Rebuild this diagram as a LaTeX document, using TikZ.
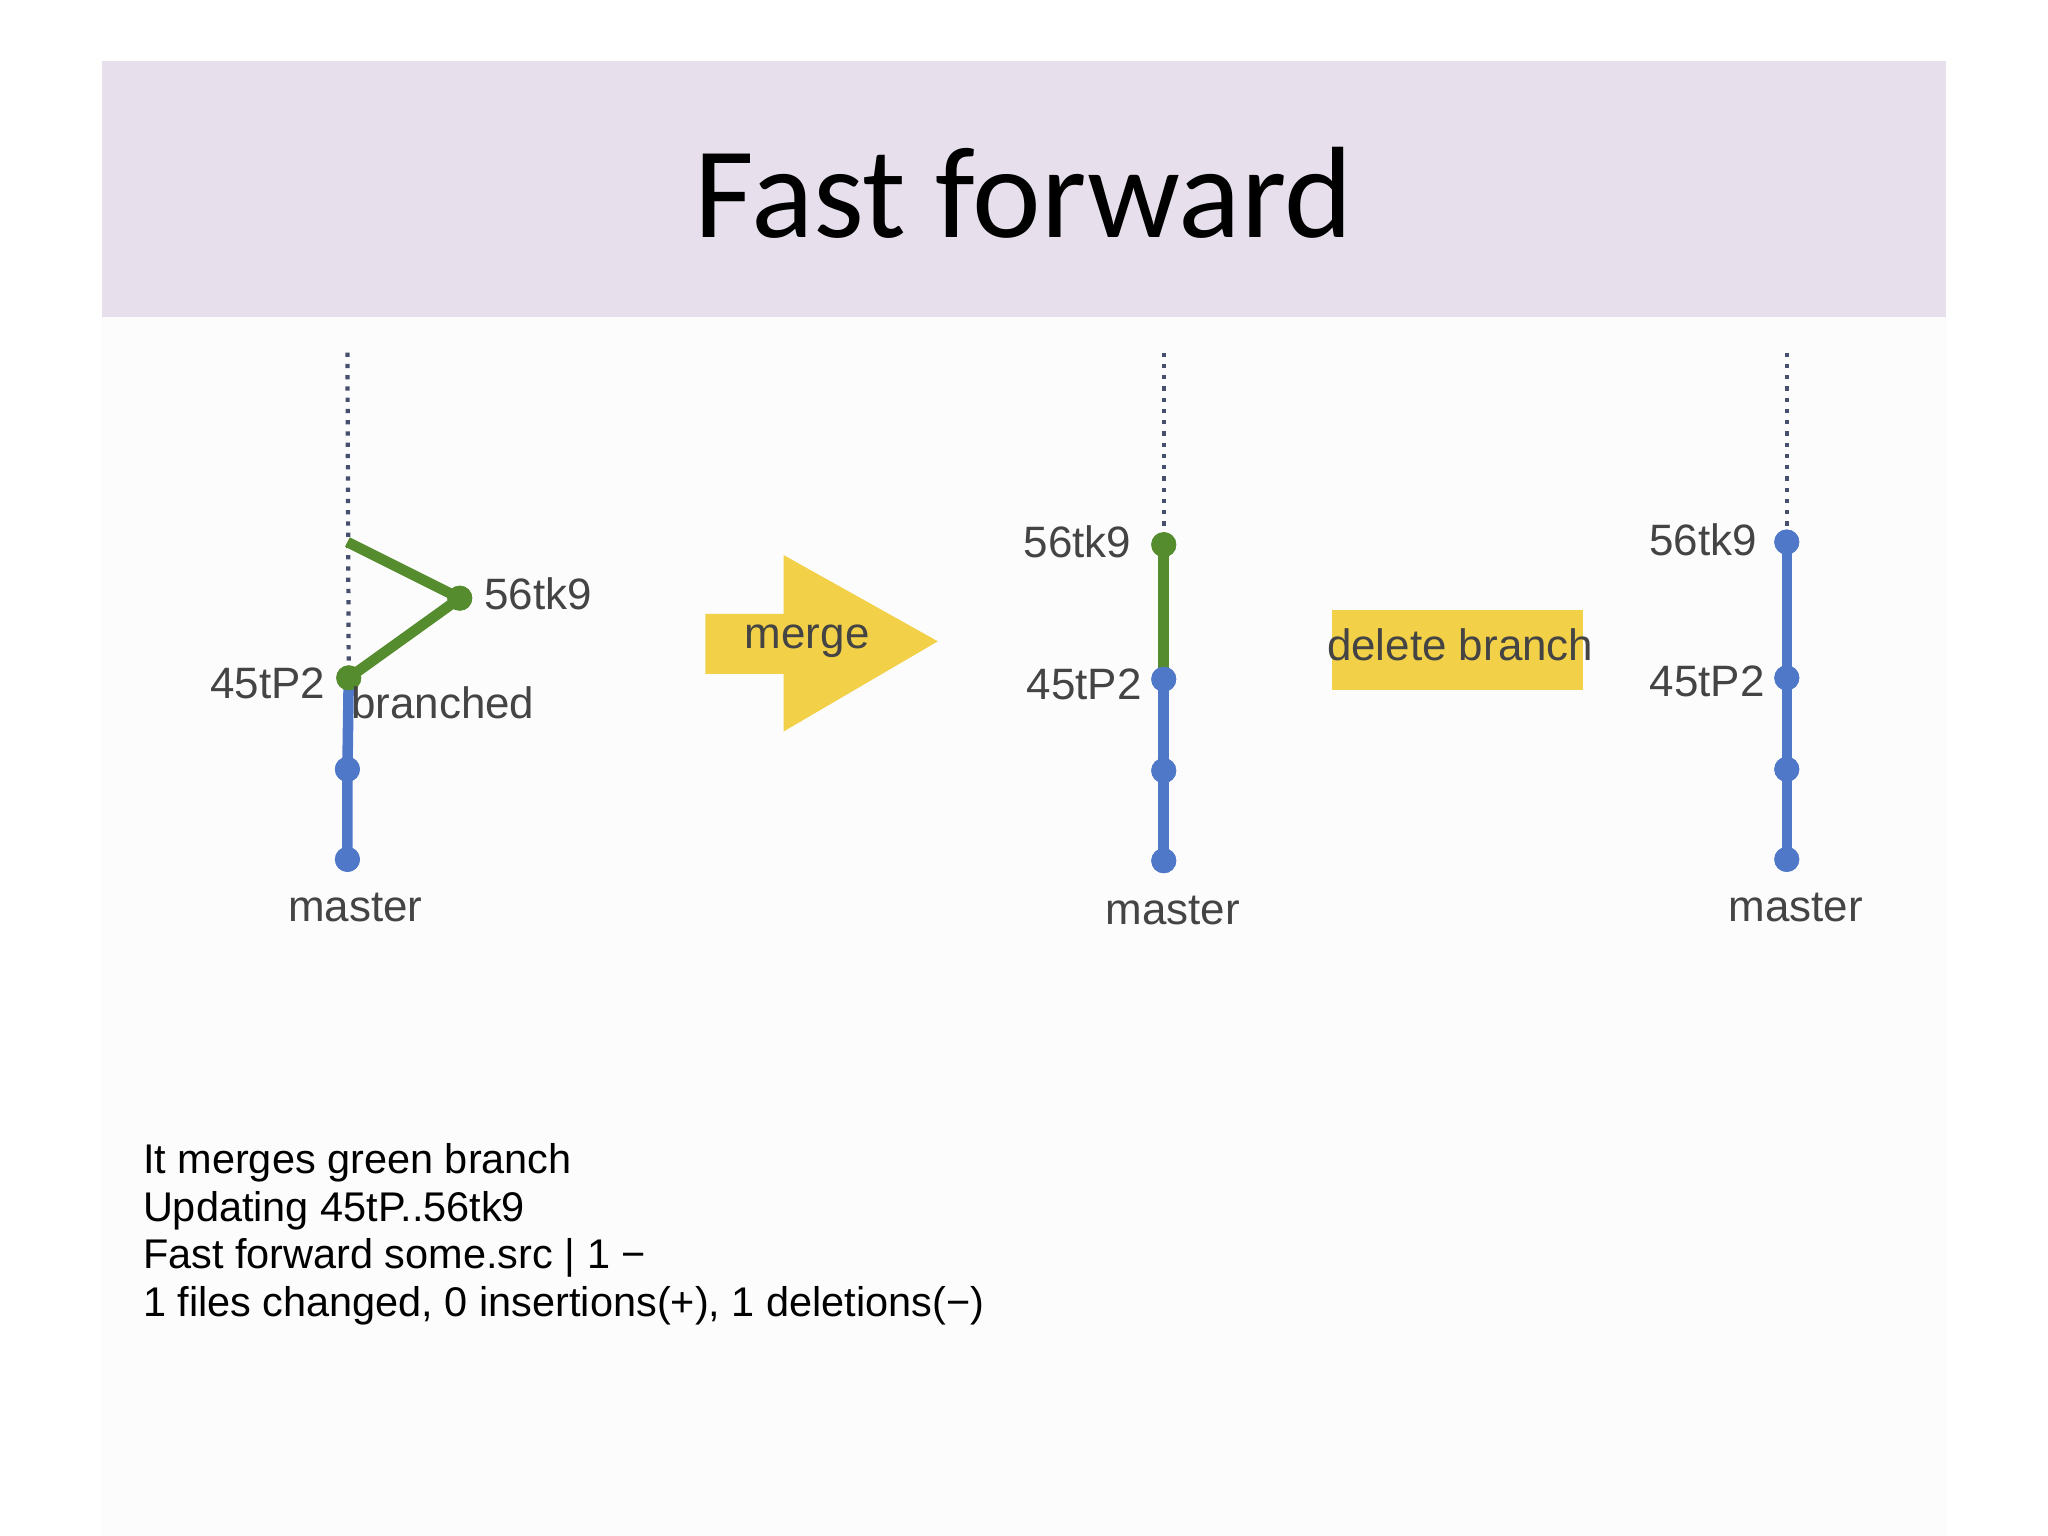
\documentclass[tikz,border=0pt]{standalone}
\usepackage{fontspec}
\setmainfont{Liberation Sans}
\newfontfamily\titlefont{Carlito}
\definecolor{cblue}{RGB}{79,120,200}
\definecolor{cgreen}{RGB}{84,140,46}
\definecolor{cdot}{RGB}{70,80,110}
\definecolor{clbl}{RGB}{68,68,68}
\definecolor{cyel}{RGB}{242,208,72}
\definecolor{cpanel}{RGB}{252,252,253}
\definecolor{chead}{RGB}{231,224,236}
\begin{document}
\begin{tikzpicture}[x=0.013061cm,y=-0.013061cm,
  blue line/.style={line width=3pt,draw=cblue},
  green line/.style={line width=3pt,draw=cgreen},
  bdot/.style={circle,fill=cblue,minimum size=0.25cm,inner sep=0pt},
  gdot/.style={circle,fill=cgreen,minimum size=0.25cm,inner sep=0pt},
  dotline/.style={line width=1.2pt,dotted,draw=cdot},
  lbl/.style={font=\fontsize{12.5pt}{14pt}\selectfont,text=clbl},
  yel/.style={fill=cyel},
  body/.style={font=\fontsize{11.8pt}{14pt}\selectfont,anchor=west}]
\useasboundingbox (0,0) rectangle (1568,1176);
\fill[white] (0,0) rectangle (1568,1176);
\fill[cpanel] (78,243) rectangle (1490,1176);
\fill[chead] (78,47) rectangle (1490,243);
\node (title) at (784,148) {\titlefont\fontsize{37pt}{40pt}\selectfont Fast forward};
% left
\coordinate (lt) at (266,270);
\coordinate (lg0) at (266,415);
\node[gdot] (l2) at (352,458) {};
\node[bdot] (l3) at (266,589) {};
\node[bdot] (l4) at (266,658) {};
\node[gdot] (l1) at (267,519) {};
\draw[dotline] (lt) -- (l1);
\draw[blue line] (l1.center) -- (l3.center) -- (l4.center);
\draw[green line,line join=round] (lg0) -- (l2.center) -- (l1.center);
\node[gdot] at (l1) {};\node[gdot] at (l2) {};
\node[bdot] at (l3) {};\node[bdot] at (l4) {};
\node[lbl] (l56) at (412,455) {56tk9};
\node[lbl] (l45) at (205,523) {45tP2};
\node[lbl] (lbr) at (339,538) {branched};
\node[lbl] (lm) at (272,695) {master};
% merge arrow
\fill[yel] (540,470) -- (600,470) -- (600,425) -- (718,491) -- (600,560) -- (600,516) -- (540,516) -- cycle;
\node[lbl] (merge) at (618,491) {merge};
% middle
\coordinate (mt) at (891,270);
\node[gdot] (m1) at (891,417) {};
\node[bdot] (m2) at (891,520) {};
\node[bdot] (m3) at (891,590) {};
\node[bdot] (m4) at (891,659) {};
\draw[dotline] (mt) -- (m1);
\draw[blue line] (m2.center) -- (m4.center);
\draw[green line] (m1.center) -- (m2.center);
\node[gdot] at (m1) {};\node[bdot] at (m2) {};
\node[bdot] at (m3) {};\node[bdot] at (m4) {};
\node[lbl] at (825,415) {56tk9};
\node[lbl] at (830,524) {45tP2};
\node[lbl] at (898,697) {master};
% delete branch
\fill[yel] (1020,467) rectangle (1212,528);
\node[lbl] (del) at (1118,494) {delete branch};
% right
\coordinate (rt) at (1368,270);
\node[bdot] (r1) at (1368,415) {};
\node[bdot] (r2) at (1368,519) {};
\node[bdot] (r3) at (1368,589) {};
\node[bdot] (r4) at (1368,658) {};
\draw[dotline] (rt) -- (r1);
\draw[blue line] (r1.center) -- (r4.center);
\foreach \n in {r1,r2,r3,r4} \node[bdot] at (\n) {};
\node[lbl] at (1304,413) {56tk9};
\node[lbl] at (1307,522) {45tP2};
\node[lbl] at (1375,695) {master};
% text
\node[body] at (100,890) {It merges green branch};
\node[body] at (100,927) {Updating 45tP..56tk9};
\node[body] at (100,963) {Fast forward some.src | 1 −};
\node[body] at (100,1000) {1 files changed, 0 insertions(+), 1 deletions(−)};
\end{tikzpicture}
\end{document}
